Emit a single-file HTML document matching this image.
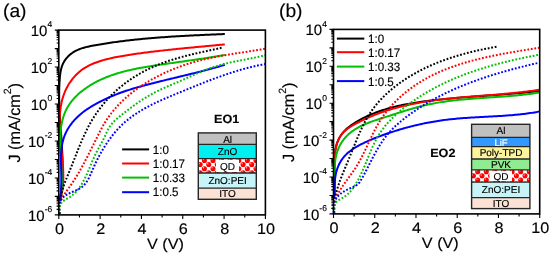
<!DOCTYPE html>
<html><head><meta charset="utf-8"><style>
html,body{margin:0;padding:0;background:#fff;width:550px;height:255px;overflow:hidden}
svg{display:block}
text{text-rendering:geometricPrecision}
svg{will-change:transform}
</style></head><body>
<svg width="550" height="255" viewBox="0 0 550 255" font-family="'Liberation Sans', sans-serif" fill="#000">
<style>text{stroke:#000;stroke-width:0.15px}</style>
<rect width="550" height="255" fill="#fff"/>
<path d="M59.80,200.00 L60.08,198.42 L60.34,196.85 L60.58,195.27 L60.81,193.71 L61.02,192.14 L61.22,190.59 L61.40,189.03 L61.57,187.48 L61.72,185.93 L61.86,184.39 L61.99,182.85 L62.10,181.31 L62.20,179.78 L62.29,178.24 L62.36,176.72 L62.42,175.19 L62.48,173.67 L62.52,172.15 L62.55,170.63 L62.57,169.12 L62.58,167.60 L62.58,166.09 L62.57,164.58 L62.56,163.08 L62.53,161.57 L62.50,160.07 L62.46,158.57 L62.42,157.07 L62.36,155.58 L62.30,154.08 L62.24,152.58 L62.17,151.09 L62.09,149.60 L62.01,148.11 L61.93,146.62 L61.84,145.13 L61.74,143.64 L61.65,142.15 L61.55,140.66 L61.45,139.17 L61.34,137.69 L61.24,136.20 L61.13,134.71 L61.03,133.23 L60.92,131.74 L60.81,130.25 L60.70,128.76 L60.59,127.27 L60.49,125.79 L60.38,124.30 L60.28,122.81 L60.18,121.31 L60.08,119.82 L59.98,118.33 L59.89,116.83 L59.80,115.34 L59.72,113.84 L59.64,112.34 L59.56,110.84 L59.49,109.34 L59.42,107.84 L59.37,106.33 L59.31,104.82 L59.27,103.31 L59.23,101.80 L59.20,100.29 L59.17,98.77 L59.16,97.25 L59.15,95.73 L59.15,94.20 L59.16,92.67 L59.19,91.14 L59.22,89.61 L59.26,88.07 L59.31,86.53 L59.38,84.99 L59.45,83.44 L59.54,81.89 L59.64,80.34 L59.75,78.78 L59.88,77.22 L60.04,75.67 L60.22,74.12 L60.44,72.59 L60.71,71.08 L61.02,69.59 L61.38,68.12 L61.81,66.69 L62.30,65.30 L62.87,63.95 L63.51,62.64 L64.22,61.38 L65.01,60.17 L65.86,59.00 L66.78,57.88 L67.75,56.81 L68.78,55.79 L69.87,54.81 L71.01,53.89 L72.20,53.02 L73.43,52.20 L74.71,51.43 L76.02,50.72 L77.38,50.06 L78.76,49.45 L80.18,48.90 L81.62,48.39 L83.08,47.92 L84.57,47.50 L86.07,47.10 L87.59,46.74 L89.11,46.40 L90.65,46.09 L92.18,45.79 L93.72,45.51 L95.26,45.23 L96.79,44.96 L98.31,44.70 L99.83,44.44 L101.35,44.18 L102.86,43.94 L104.37,43.69 L105.87,43.45 L107.37,43.22 L108.87,42.99 L110.37,42.77 L111.86,42.55 L113.35,42.33 L114.84,42.12 L116.33,41.92 L117.81,41.72 L119.30,41.52 L120.78,41.33 L122.27,41.14 L123.75,40.95 L125.24,40.77 L126.72,40.59 L128.21,40.41 L129.70,40.24 L131.19,40.08 L132.68,39.91 L134.17,39.75 L135.66,39.59 L137.16,39.44 L138.66,39.28 L140.15,39.14 L141.65,38.99 L143.15,38.85 L144.66,38.71 L146.16,38.57 L147.66,38.44 L149.17,38.31 L150.67,38.18 L152.18,38.05 L153.69,37.93 L155.20,37.81 L156.71,37.69 L158.22,37.57 L159.73,37.46 L161.24,37.35 L162.76,37.24 L164.27,37.13 L165.79,37.02 L167.30,36.92 L168.82,36.82 L170.33,36.72 L171.85,36.62 L173.36,36.53 L174.88,36.44 L176.40,36.34 L177.91,36.25 L179.43,36.17 L180.95,36.08 L182.47,35.99 L183.98,35.91 L185.50,35.83 L187.02,35.75 L188.54,35.67 L190.05,35.59 L191.57,35.51 L193.09,35.44 L194.60,35.36 L196.12,35.29 L197.64,35.21 L199.15,35.14 L200.67,35.07 L202.18,35.00 L203.69,34.93 L205.21,34.86 L206.72,34.79 L208.23,34.72 L209.74,34.66 L211.25,34.59 L212.76,34.52 L214.27,34.46 L215.78,34.39 L217.28,34.33 L218.79,34.26 L220.29,34.19 L221.80,34.13 L223.30,34.06 L224.80,34.00" stroke="#000000" stroke-width="2" fill="none" stroke-linejoin="round"/>
<path d="M59.90,201.00 L60.33,199.64 L60.73,198.28 L61.10,196.90 L61.43,195.51 L61.73,194.11 L62.01,192.70 L62.25,191.28 L62.47,189.84 L62.65,188.40 L62.82,186.95 L62.95,185.49 L63.07,184.02 L63.16,182.55 L63.23,181.06 L63.28,179.57 L63.31,178.07 L63.32,176.57 L63.31,175.05 L63.28,173.53 L63.24,172.01 L63.19,170.48 L63.12,168.94 L63.04,167.40 L62.94,165.86 L62.84,164.31 L62.73,162.75 L62.60,161.19 L62.47,159.63 L62.34,158.07 L62.19,156.50 L62.05,154.93 L61.90,153.36 L61.74,151.79 L61.59,150.21 L61.43,148.64 L61.28,147.06 L61.12,145.48 L60.97,143.91 L60.83,142.33 L60.68,140.75 L60.55,139.18 L60.42,137.61 L60.29,136.03 L60.18,134.46 L60.07,132.90 L59.98,131.33 L59.90,129.77 L59.83,128.21 L59.77,126.65 L59.73,125.10 L59.70,123.55 L59.69,122.01 L59.70,120.47 L59.73,118.94 L59.77,117.41 L59.84,115.89 L59.93,114.37 L60.04,112.86 L60.18,111.36 L60.34,109.87 L60.52,108.38 L60.74,106.90 L60.98,105.43 L61.25,103.96 L61.55,102.51 L61.88,101.07 L62.24,99.63 L62.64,98.20 L63.07,96.79 L63.53,95.38 L64.03,93.99 L64.57,92.60 L65.15,91.23 L65.76,89.87 L66.41,88.53 L67.10,87.20 L67.83,85.88 L68.59,84.58 L69.39,83.31 L70.23,82.05 L71.10,80.82 L72.00,79.61 L72.93,78.43 L73.90,77.27 L74.91,76.14 L75.94,75.04 L77.00,73.98 L78.10,72.95 L79.22,71.95 L80.38,70.99 L81.56,70.06 L82.77,69.18 L84.01,68.34 L85.27,67.54 L86.57,66.78 L87.88,66.06 L89.22,65.37 L90.57,64.72 L91.95,64.11 L93.34,63.52 L94.75,62.97 L96.17,62.44 L97.60,61.94 L99.04,61.46 L100.50,61.00 L101.95,60.56 L103.42,60.14 L104.88,59.73 L106.35,59.34 L107.82,58.97 L109.30,58.60 L110.78,58.26 L112.26,57.92 L113.75,57.60 L115.23,57.29 L116.72,56.99 L118.21,56.70 L119.71,56.42 L121.20,56.15 L122.70,55.89 L124.20,55.64 L125.69,55.39 L127.19,55.15 L128.69,54.92 L130.19,54.69 L131.69,54.47 L133.20,54.25 L134.70,54.03 L136.20,53.82 L137.70,53.61 L139.20,53.41 L140.70,53.20 L142.20,53.00 L143.70,52.81 L145.19,52.61 L146.69,52.42 L148.19,52.23 L149.69,52.04 L151.19,51.86 L152.69,51.67 L154.18,51.49 L155.68,51.32 L157.18,51.14 L158.68,50.96 L160.18,50.79 L161.67,50.62 L163.17,50.45 L164.67,50.29 L166.17,50.12 L167.66,49.96 L169.16,49.80 L170.66,49.64 L172.16,49.48 L173.66,49.32 L175.15,49.16 L176.65,49.01 L178.15,48.86 L179.65,48.70 L181.15,48.55 L182.65,48.40 L184.15,48.26 L185.65,48.11 L187.15,47.96 L188.65,47.81 L190.15,47.67 L191.65,47.52 L193.15,47.38 L194.65,47.24 L196.16,47.09 L197.66,46.95 L199.16,46.81 L200.67,46.67 L202.17,46.53 L203.67,46.39 L205.18,46.25 L206.68,46.10 L208.19,45.96 L209.70,45.82 L211.21,45.68 L212.71,45.54 L214.22,45.40 L215.73,45.26 L217.24,45.12 L218.75,44.97 L220.26,44.83 L221.77,44.69 L223.29,44.55 L224.80,44.40" stroke="#ff0000" stroke-width="2" fill="none" stroke-linejoin="round"/>
<path d="M59.90,201.00 L60.22,199.70 L60.51,198.39 L60.76,197.05 L60.99,195.70 L61.19,194.33 L61.36,192.94 L61.51,191.54 L61.63,190.12 L61.73,188.68 L61.81,187.24 L61.87,185.77 L61.91,184.30 L61.93,182.81 L61.93,181.31 L61.92,179.80 L61.89,178.28 L61.85,176.75 L61.80,175.22 L61.74,173.67 L61.67,172.11 L61.59,170.55 L61.51,168.98 L61.42,167.41 L61.32,165.83 L61.23,164.25 L61.13,162.66 L61.03,161.07 L60.93,159.47 L60.83,157.88 L60.74,156.28 L60.65,154.69 L60.56,153.09 L60.48,151.49 L60.41,149.90 L60.36,148.31 L60.31,146.72 L60.27,145.13 L60.25,143.55 L60.24,141.97 L60.24,140.40 L60.26,138.83 L60.31,137.27 L60.37,135.72 L60.45,134.17 L60.55,132.64 L60.68,131.11 L60.83,129.59 L61.00,128.09 L61.20,126.59 L61.43,125.11 L61.69,123.64 L61.99,122.18 L62.31,120.74 L62.66,119.31 L63.05,117.89 L63.48,116.49 L63.94,115.11 L64.44,113.75 L64.98,112.40 L65.56,111.07 L66.18,109.76 L66.84,108.47 L67.55,107.20 L68.30,105.95 L69.10,104.72 L69.93,103.51 L70.80,102.33 L71.71,101.16 L72.66,100.02 L73.64,98.89 L74.65,97.79 L75.70,96.71 L76.77,95.65 L77.87,94.61 L79.00,93.59 L80.15,92.60 L81.32,91.63 L82.52,90.68 L83.73,89.75 L84.96,88.84 L86.21,87.96 L87.48,87.10 L88.75,86.26 L90.04,85.44 L91.34,84.65 L92.65,83.88 L93.97,83.13 L95.30,82.40 L96.64,81.69 L97.99,81.01 L99.35,80.34 L100.71,79.69 L102.08,79.07 L103.47,78.46 L104.86,77.87 L106.25,77.29 L107.66,76.74 L109.07,76.20 L110.48,75.68 L111.91,75.17 L113.34,74.68 L114.77,74.20 L116.22,73.74 L117.66,73.30 L119.12,72.87 L120.57,72.45 L122.04,72.04 L123.50,71.65 L124.97,71.27 L126.45,70.90 L127.92,70.54 L129.41,70.19 L130.89,69.86 L132.38,69.53 L133.87,69.21 L135.36,68.90 L136.85,68.60 L138.35,68.31 L139.85,68.03 L141.35,67.75 L142.85,67.48 L144.35,67.22 L145.85,66.96 L147.35,66.71 L148.85,66.47 L150.35,66.22 L151.86,65.99 L153.36,65.75 L154.85,65.52 L156.35,65.30 L157.85,65.07 L159.34,64.85 L160.84,64.63 L162.33,64.41 L163.82,64.19 L165.30,63.97 L166.79,63.76 L168.27,63.54 L169.76,63.33 L171.24,63.12 L172.72,62.91 L174.20,62.70 L175.68,62.48 L177.15,62.27 L178.63,62.06 L180.11,61.86 L181.59,61.65 L183.06,61.44 L184.54,61.23 L186.02,61.02 L187.49,60.81 L188.97,60.59 L190.45,60.38 L191.92,60.17 L193.40,59.96 L194.88,59.74 L196.36,59.53 L197.84,59.31 L199.32,59.10 L200.81,58.88 L202.29,58.66 L203.78,58.44 L205.27,58.21 L206.75,57.99 L208.25,57.76 L209.74,57.53 L211.23,57.30 L212.73,57.07 L214.23,56.83 L215.73,56.59 L217.24,56.35 L218.74,56.11 L220.25,55.86 L221.77,55.61 L223.28,55.36 L224.80,55.10" stroke="#00c000" stroke-width="2" fill="none" stroke-linejoin="round"/>
<path d="M60.19,201.00 L60.38,199.51 L60.54,198.03 L60.68,196.54 L60.81,195.05 L60.92,193.57 L61.02,192.08 L61.10,190.59 L61.17,189.10 L61.22,187.60 L61.26,186.10 L61.29,184.61 L61.32,183.10 L61.33,181.60 L61.33,180.09 L61.32,178.58 L61.31,177.06 L61.29,175.54 L61.27,174.01 L61.24,172.48 L61.20,170.95 L61.17,169.40 L61.13,167.86 L61.10,166.31 L61.06,164.75 L61.04,163.20 L61.02,161.64 L61.01,160.09 L61.02,158.53 L61.04,156.98 L61.09,155.44 L61.15,153.90 L61.23,152.36 L61.34,150.83 L61.48,149.32 L61.65,147.81 L61.85,146.31 L62.09,144.82 L62.36,143.35 L62.68,141.89 L63.03,140.45 L63.44,139.02 L63.89,137.61 L64.38,136.22 L64.92,134.85 L65.51,133.49 L66.14,132.16 L66.81,130.85 L67.52,129.55 L68.28,128.28 L69.07,127.02 L69.90,125.79 L70.76,124.58 L71.66,123.39 L72.59,122.22 L73.56,121.07 L74.56,119.95 L75.58,118.85 L76.64,117.77 L77.73,116.71 L78.84,115.68 L79.97,114.68 L81.14,113.70 L82.32,112.74 L83.53,111.81 L84.76,110.90 L86.00,110.02 L87.27,109.16 L88.55,108.32 L89.84,107.50 L91.15,106.70 L92.46,105.91 L93.79,105.14 L95.12,104.39 L96.45,103.65 L97.79,102.92 L99.13,102.21 L100.48,101.51 L101.83,100.82 L103.19,100.14 L104.55,99.48 L105.91,98.82 L107.28,98.19 L108.66,97.56 L110.03,96.95 L111.42,96.35 L112.81,95.77 L114.20,95.20 L115.60,94.64 L117.00,94.09 L118.41,93.56 L119.82,93.03 L121.23,92.52 L122.65,92.02 L124.07,91.53 L125.50,91.04 L126.92,90.57 L128.36,90.11 L129.79,89.65 L131.23,89.20 L132.67,88.76 L134.11,88.33 L135.56,87.91 L137.01,87.49 L138.46,87.07 L139.91,86.67 L141.36,86.26 L142.82,85.87 L144.28,85.47 L145.74,85.08 L147.20,84.70 L148.66,84.31 L150.12,83.93 L151.58,83.56 L153.05,83.18 L154.51,82.81 L155.98,82.44 L157.44,82.07 L158.91,81.71 L160.38,81.34 L161.84,80.98 L163.31,80.62 L164.78,80.26 L166.25,79.90 L167.72,79.54 L169.19,79.19 L170.66,78.83 L172.13,78.47 L173.60,78.12 L175.08,77.76 L176.55,77.41 L178.02,77.05 L179.49,76.70 L180.96,76.34 L182.43,75.99 L183.90,75.63 L185.37,75.28 L186.84,74.92 L188.31,74.56 L189.78,74.20 L191.25,73.84 L192.72,73.47 L194.19,73.11 L195.65,72.74 L197.12,72.37 L198.59,72.00 L200.05,71.63 L201.52,71.26 L202.98,70.88 L204.44,70.50 L205.90,70.11 L207.37,69.73 L208.83,69.34 L210.28,68.94 L211.74,68.55 L213.20,68.15 L214.65,67.74 L216.11,67.34 L217.56,66.92 L219.01,66.51 L220.46,66.09 L221.91,65.66 L223.35,65.23 L224.80,64.80" stroke="#0000ff" stroke-width="2" fill="none" stroke-linejoin="round"/>
<path d="M59.79,214.00 L59.63,212.44 L59.52,210.89 L59.47,209.35 L59.46,207.82 L59.49,206.31 L59.57,204.80 L59.69,203.30 L59.84,201.81 L60.04,200.33 L60.27,198.86 L60.54,197.40 L60.84,195.94 L61.17,194.49 L61.52,193.04 L61.91,191.60 L62.32,190.17 L62.76,188.74 L63.21,187.32 L63.69,185.90 L64.18,184.48 L64.70,183.07 L65.22,181.66 L65.76,180.25 L66.31,178.85 L66.87,177.44 L67.44,176.04 L68.02,174.63 L68.59,173.23 L69.17,171.83 L69.76,170.42 L70.34,169.02 L70.91,167.61 L71.49,166.20 L72.06,164.79 L72.62,163.37 L73.19,161.96 L73.75,160.55 L74.31,159.13 L74.87,157.71 L75.42,156.30 L75.98,154.88 L76.54,153.47 L77.10,152.06 L77.67,150.64 L78.23,149.23 L78.80,147.83 L79.37,146.42 L79.95,145.02 L80.53,143.62 L81.12,142.22 L81.71,140.83 L82.31,139.44 L82.92,138.05 L83.54,136.67 L84.16,135.29 L84.80,133.92 L85.44,132.56 L86.09,131.20 L86.76,129.84 L87.43,128.50 L88.12,127.16 L88.82,125.83 L89.54,124.50 L90.26,123.18 L91.01,121.87 L91.76,120.57 L92.54,119.28 L93.32,117.99 L94.13,116.72 L94.95,115.45 L95.78,114.20 L96.63,112.95 L97.49,111.71 L98.37,110.49 L99.27,109.27 L100.18,108.07 L101.10,106.87 L102.04,105.69 L102.99,104.51 L103.96,103.35 L104.94,102.20 L105.93,101.06 L106.94,99.93 L107.97,98.82 L109.00,97.71 L110.05,96.62 L111.11,95.54 L112.19,94.47 L113.28,93.42 L114.38,92.37 L115.49,91.34 L116.62,90.33 L117.76,89.32 L118.90,88.33 L120.06,87.35 L121.24,86.38 L122.42,85.43 L123.61,84.49 L124.81,83.56 L126.03,82.65 L127.25,81.75 L128.49,80.86 L129.73,79.99 L130.98,79.13 L132.24,78.28 L133.51,77.45 L134.79,76.63 L136.08,75.83 L137.38,75.04 L138.68,74.26 L140.00,73.50 L141.32,72.75 L142.64,72.02 L143.98,71.30 L145.32,70.60 L146.67,69.91 L148.02,69.24 L149.39,68.58 L150.75,67.93 L152.13,67.30 L153.51,66.69 L154.89,66.09 L156.28,65.50 L157.68,64.93 L159.08,64.37 L160.48,63.82 L161.90,63.29 L163.31,62.77 L164.73,62.26 L166.15,61.76 L167.58,61.27 L169.01,60.79 L170.45,60.32 L171.89,59.86 L173.33,59.42 L174.78,58.98 L176.23,58.55 L177.68,58.13 L179.14,57.71 L180.60,57.31 L182.06,56.91 L183.52,56.52 L184.99,56.14 L186.46,55.76 L187.93,55.39 L189.40,55.02 L190.87,54.66 L192.35,54.31 L193.82,53.96 L195.30,53.61 L196.78,53.27 L198.26,52.93 L199.74,52.59 L201.22,52.26 L202.70,51.93 L204.18,51.60 L205.66,51.27 L207.14,50.95 L208.62,50.62 L210.10,50.30 L211.58,49.98 L213.06,49.66 L214.53,49.33 L216.01,49.01 L217.48,48.68 L218.96,48.36 L220.43,48.03 L221.90,47.70" stroke="#000000" stroke-width="2" fill="none" stroke-dasharray="1.8 1.75"/>
<path d="M59.90,214.00 L59.50,212.30 L59.25,210.66 L59.14,209.07 L59.16,207.52 L59.30,206.03 L59.56,204.57 L59.91,203.15 L60.36,201.77 L60.90,200.42 L61.50,199.10 L62.18,197.80 L62.91,196.52 L63.69,195.26 L64.51,194.02 L65.36,192.78 L66.23,191.56 L67.12,190.33 L68.01,189.11 L68.91,187.89 L69.79,186.65 L70.66,185.42 L71.52,184.17 L72.36,182.91 L73.19,181.65 L74.01,180.39 L74.82,179.11 L75.62,177.83 L76.41,176.55 L77.19,175.25 L77.96,173.96 L78.72,172.65 L79.47,171.35 L80.22,170.04 L80.96,168.72 L81.69,167.40 L82.41,166.08 L83.13,164.75 L83.84,163.42 L84.54,162.09 L85.24,160.75 L85.94,159.41 L86.63,158.07 L87.32,156.73 L88.01,155.38 L88.69,154.04 L89.37,152.69 L90.05,151.34 L90.73,149.99 L91.40,148.64 L92.08,147.30 L92.76,145.95 L93.43,144.60 L94.11,143.24 L94.78,141.89 L95.46,140.53 L96.13,139.16 L96.80,137.80 L97.48,136.43 L98.15,135.06 L98.84,133.69 L99.53,132.32 L100.22,130.96 L100.93,129.60 L101.65,128.25 L102.38,126.91 L103.12,125.57 L103.88,124.25 L104.66,122.95 L105.45,121.65 L106.27,120.38 L107.10,119.11 L107.95,117.86 L108.81,116.63 L109.70,115.41 L110.60,114.20 L111.51,113.01 L112.45,111.83 L113.40,110.66 L114.36,109.51 L115.34,108.37 L116.34,107.25 L117.35,106.14 L118.37,105.04 L119.41,103.96 L120.46,102.88 L121.53,101.83 L122.61,100.78 L123.70,99.75 L124.81,98.73 L125.93,97.73 L127.06,96.74 L128.20,95.76 L129.36,94.79 L130.52,93.84 L131.70,92.89 L132.89,91.97 L134.09,91.05 L135.30,90.14 L136.52,89.25 L137.75,88.37 L138.99,87.51 L140.23,86.65 L141.49,85.81 L142.76,84.98 L144.03,84.16 L145.32,83.35 L146.61,82.55 L147.91,81.77 L149.21,80.99 L150.53,80.23 L151.85,79.48 L153.17,78.75 L154.51,78.02 L155.85,77.30 L157.19,76.60 L158.54,75.90 L159.90,75.22 L161.26,74.55 L162.62,73.89 L164.00,73.24 L165.37,72.60 L166.75,71.97 L168.14,71.35 L169.53,70.75 L170.92,70.15 L172.32,69.57 L173.72,69.00 L175.13,68.43 L176.54,67.88 L177.96,67.34 L179.38,66.81 L180.80,66.29 L182.23,65.78 L183.66,65.29 L185.09,64.80 L186.52,64.32 L187.96,63.86 L189.41,63.40 L190.85,62.96 L192.30,62.52 L193.75,62.10 L195.20,61.69 L196.66,61.28 L198.11,60.89 L199.57,60.51 L201.04,60.14 L202.50,59.78 L203.97,59.42 L205.43,59.08 L206.90,58.74 L208.38,58.41 L209.85,58.09 L211.32,57.78 L212.80,57.48 L214.28,57.18 L215.76,56.89 L217.24,56.60 L218.72,56.32 L220.21,56.05 L221.69,55.78 L223.18,55.51 L224.67,55.25 L226.15,55.00 L227.64,54.75 L229.13,54.50 L230.62,54.25 L232.12,54.01 L233.61,53.77 L235.10,53.54 L236.60,53.30 L238.09,53.07 L239.59,52.84 L241.08,52.61 L242.58,52.38 L244.07,52.15 L245.57,51.92 L247.06,51.69 L248.56,51.46 L250.06,51.23 L251.55,51.00 L253.05,50.76 L254.54,50.53 L256.04,50.29 L257.53,50.05 L259.03,49.81 L260.52,49.56 L262.01,49.31 L263.51,49.06 L265.00,48.80" stroke="#ff0000" stroke-width="2" fill="none" stroke-dasharray="1.8 1.75"/>
<path d="M59.90,214.00 L59.61,212.26 L59.44,210.58 L59.42,208.97 L59.55,207.44 L59.83,206.00 L60.27,204.68 L60.89,203.47 L61.68,202.41 L62.66,201.49 L63.78,200.68 L64.99,199.91 L66.26,199.16 L67.56,198.40 L68.87,197.63 L70.15,196.82 L71.39,195.96 L72.58,195.04 L73.72,194.06 L74.81,193.04 L75.86,191.97 L76.87,190.85 L77.83,189.70 L78.76,188.51 L79.65,187.28 L80.50,186.03 L81.32,184.75 L82.11,183.45 L82.87,182.14 L83.60,180.80 L84.31,179.46 L84.99,178.11 L85.66,176.75 L86.30,175.38 L86.93,174.01 L87.54,172.63 L88.14,171.25 L88.73,169.87 L89.32,168.48 L89.90,167.10 L90.47,165.71 L91.05,164.32 L91.62,162.94 L92.20,161.55 L92.79,160.17 L93.38,158.79 L93.99,157.42 L94.61,156.05 L95.24,154.69 L95.89,153.34 L96.56,151.99 L97.26,150.65 L97.97,149.32 L98.70,148.00 L99.44,146.68 L100.18,145.36 L100.92,144.03 L101.65,142.70 L102.37,141.35 L103.07,139.99 L103.74,138.62 L104.39,137.24 L105.03,135.85 L105.67,134.47 L106.31,133.09 L106.97,131.72 L107.65,130.37 L108.35,129.04 L109.10,127.75 L109.89,126.48 L110.73,125.26 L111.64,124.09 L112.60,122.96 L113.62,121.86 L114.67,120.81 L115.77,119.78 L116.90,118.77 L118.05,117.79 L119.23,116.82 L120.41,115.86 L121.60,114.91 L122.79,113.97 L123.99,113.03 L125.19,112.09 L126.39,111.16 L127.59,110.23 L128.80,109.31 L130.01,108.40 L131.23,107.49 L132.45,106.59 L133.67,105.70 L134.90,104.81 L136.13,103.94 L137.37,103.07 L138.61,102.22 L139.86,101.37 L141.11,100.53 L142.37,99.71 L143.64,98.90 L144.91,98.09 L146.19,97.30 L147.48,96.53 L148.77,95.76 L150.07,95.01 L151.38,94.28 L152.70,93.55 L154.03,92.85 L155.36,92.16 L156.70,91.48 L158.05,90.81 L159.41,90.16 L160.77,89.51 L162.13,88.88 L163.50,88.25 L164.88,87.64 L166.26,87.03 L167.64,86.42 L169.03,85.82 L170.42,85.22 L171.81,84.63 L173.20,84.04 L174.59,83.44 L175.99,82.85 L177.38,82.26 L178.77,81.66 L180.16,81.06 L181.55,80.45 L182.93,79.84 L184.32,79.23 L185.70,78.61 L187.08,77.99 L188.46,77.37 L189.84,76.75 L191.22,76.13 L192.60,75.52 L193.98,74.90 L195.36,74.29 L196.75,73.68 L198.13,73.08 L199.52,72.48 L200.91,71.89 L202.30,71.31 L203.69,70.73 L205.09,70.17 L206.49,69.62 L207.89,69.08 L209.30,68.55 L210.71,68.03 L212.13,67.53 L213.55,67.04 L214.98,66.57 L216.41,66.12 L217.85,65.68 L219.29,65.26 L220.74,64.85 L222.20,64.46 L223.66,64.08 L225.12,63.71 L226.58,63.36 L228.05,63.01 L229.53,62.68 L231.00,62.35 L232.48,62.03 L233.96,61.72 L235.44,61.41 L236.92,61.11 L238.41,60.81 L239.89,60.52 L241.38,60.23 L242.87,59.94 L244.35,59.66 L245.84,59.37 L247.33,59.08 L248.81,58.80 L250.29,58.51 L251.78,58.21 L253.26,57.92 L254.74,57.61 L256.21,57.31 L257.69,56.99 L259.16,56.67 L260.62,56.34 L262.09,56.01 L263.54,55.66 L265.00,55.30" stroke="#00c000" stroke-width="2" fill="none" stroke-dasharray="1.8 1.75"/>
<path d="M59.90,214.00 L59.32,212.24 L58.93,210.54 L58.72,208.89 L58.68,207.30 L58.81,205.76 L59.09,204.30 L59.52,202.89 L60.09,201.56 L60.79,200.30 L61.60,199.11 L62.53,198.01 L63.56,196.98 L64.68,196.03 L65.89,195.17 L67.16,194.38 L68.50,193.66 L69.88,193.00 L71.29,192.37 L72.71,191.78 L74.13,191.19 L75.54,190.60 L76.93,190.00 L78.28,189.35 L79.59,188.66 L80.83,187.90 L82.01,187.06 L83.10,186.12 L84.12,185.09 L85.06,183.99 L85.95,182.82 L86.77,181.60 L87.55,180.34 L88.28,179.04 L88.98,177.72 L89.64,176.38 L90.28,175.02 L90.90,173.65 L91.51,172.26 L92.12,170.87 L92.72,169.47 L93.33,168.07 L93.96,166.67 L94.59,165.28 L95.23,163.89 L95.89,162.50 L96.56,161.12 L97.24,159.75 L97.94,158.37 L98.64,157.01 L99.36,155.65 L100.09,154.30 L100.84,152.95 L101.59,151.62 L102.36,150.29 L103.15,148.97 L103.94,147.66 L104.75,146.36 L105.58,145.06 L106.41,143.78 L107.26,142.51 L108.13,141.26 L109.01,140.01 L109.90,138.78 L110.80,137.56 L111.72,136.35 L112.66,135.16 L113.61,133.98 L114.57,132.81 L115.55,131.66 L116.54,130.53 L117.55,129.41 L118.57,128.31 L119.61,127.23 L120.66,126.17 L121.73,125.12 L122.81,124.09 L123.91,123.08 L125.03,122.09 L126.15,121.12 L127.30,120.16 L128.46,119.23 L129.63,118.31 L130.81,117.41 L132.01,116.52 L133.22,115.65 L134.45,114.80 L135.68,113.96 L136.93,113.14 L138.19,112.33 L139.46,111.54 L140.74,110.76 L142.03,109.99 L143.33,109.23 L144.63,108.49 L145.95,107.76 L147.28,107.04 L148.61,106.33 L149.95,105.63 L151.30,104.94 L152.66,104.27 L154.02,103.60 L155.39,102.93 L156.76,102.28 L158.14,101.64 L159.52,101.00 L160.91,100.37 L162.31,99.75 L163.70,99.13 L165.10,98.52 L166.51,97.91 L167.91,97.31 L169.32,96.71 L170.73,96.12 L172.14,95.53 L173.55,94.94 L174.97,94.36 L176.38,93.77 L177.79,93.19 L179.21,92.61 L180.62,92.04 L182.03,91.46 L183.44,90.88 L184.85,90.31 L186.26,89.73 L187.66,89.15 L189.07,88.58 L190.47,88.01 L191.88,87.44 L193.28,86.87 L194.68,86.30 L196.08,85.73 L197.49,85.17 L198.89,84.61 L200.29,84.05 L201.69,83.49 L203.09,82.94 L204.50,82.39 L205.90,81.84 L207.30,81.29 L208.71,80.75 L210.11,80.22 L211.51,79.68 L212.92,79.15 L214.33,78.63 L215.74,78.10 L217.14,77.59 L218.55,77.07 L219.97,76.57 L221.38,76.06 L222.80,75.56 L224.21,75.07 L225.63,74.59 L227.05,74.10 L228.47,73.63 L229.90,73.16 L231.32,72.69 L232.75,72.24 L234.19,71.79 L235.62,71.34 L237.06,70.90 L238.50,70.47 L239.94,70.05 L241.38,69.63 L242.83,69.22 L244.28,68.82 L245.74,68.43 L247.20,68.04 L248.66,67.67 L250.12,67.30 L251.59,66.94 L253.07,66.58 L254.54,66.24 L256.02,65.91 L257.51,65.58 L259.00,65.26 L260.49,64.96 L261.99,64.66 L263.49,64.37 L265.00,64.10" stroke="#0000ff" stroke-width="2" fill="none" stroke-dasharray="1.8 1.75"/>
<rect x="58.80" y="30.10" width="206.60" height="184.80" fill="none" stroke="#000" stroke-width="1.6"/>
<path d="M54.80,214.90H58.80M56.60,209.34H58.80M56.60,206.08H58.80M56.60,203.77H58.80M56.60,201.98H58.80M56.60,200.52H58.80M56.60,199.28H58.80M56.60,198.21H58.80M56.60,197.27H58.80M54.80,196.42H58.80M56.60,190.86H58.80M56.60,187.60H58.80M56.60,185.29H58.80M56.60,183.50H58.80M56.60,182.04H58.80M56.60,180.80H58.80M56.60,179.73H58.80M56.60,178.79H58.80M54.80,177.94H58.80M56.60,172.38H58.80M56.60,169.12H58.80M56.60,166.81H58.80M56.60,165.02H58.80M56.60,163.56H58.80M56.60,162.32H58.80M56.60,161.25H58.80M56.60,160.31H58.80M54.80,159.46H58.80M56.60,153.90H58.80M56.60,150.64H58.80M56.60,148.33H58.80M56.60,146.54H58.80M56.60,145.08H58.80M56.60,143.84H58.80M56.60,142.77H58.80M56.60,141.83H58.80M54.80,140.98H58.80M56.60,135.42H58.80M56.60,132.16H58.80M56.60,129.85H58.80M56.60,128.06H58.80M56.60,126.60H58.80M56.60,125.36H58.80M56.60,124.29H58.80M56.60,123.35H58.80M54.80,122.50H58.80M56.60,116.94H58.80M56.60,113.68H58.80M56.60,111.37H58.80M56.60,109.58H58.80M56.60,108.12H58.80M56.60,106.88H58.80M56.60,105.81H58.80M56.60,104.87H58.80M54.80,104.02H58.80M56.60,98.46H58.80M56.60,95.20H58.80M56.60,92.89H58.80M56.60,91.10H58.80M56.60,89.64H58.80M56.60,88.40H58.80M56.60,87.33H58.80M56.60,86.39H58.80M54.80,85.54H58.80M56.60,79.98H58.80M56.60,76.72H58.80M56.60,74.41H58.80M56.60,72.62H58.80M56.60,71.16H58.80M56.60,69.92H58.80M56.60,68.85H58.80M56.60,67.91H58.80M54.80,67.06H58.80M56.60,61.50H58.80M56.60,58.24H58.80M56.60,55.93H58.80M56.60,54.14H58.80M56.60,52.68H58.80M56.60,51.44H58.80M56.60,50.37H58.80M56.60,49.43H58.80M54.80,48.58H58.80M56.60,43.02H58.80M56.60,39.76H58.80M56.60,37.45H58.80M56.60,35.66H58.80M56.60,34.20H58.80M56.60,32.96H58.80M56.60,31.89H58.80M56.60,30.95H58.80M54.80,30.10H58.80M58.80,214.90V218.90M79.46,214.90V217.50M100.12,214.90V218.90M120.78,214.90V217.50M141.44,214.90V218.90M162.10,214.90V217.50M182.76,214.90V218.90M203.42,214.90V217.50M224.08,214.90V218.90M244.74,214.90V217.50M265.40,214.90V218.90" stroke="#000" stroke-width="1.1" fill="none"/>
<text x="52.20" y="220.90" font-size="15" text-anchor="end">10<tspan dy="-8.6" font-size="8.5">-6</tspan></text>
<text x="52.20" y="183.94" font-size="15" text-anchor="end">10<tspan dy="-8.6" font-size="8.5">-4</tspan></text>
<text x="52.20" y="146.98" font-size="15" text-anchor="end">10<tspan dy="-8.6" font-size="8.5">-2</tspan></text>
<text x="52.20" y="110.02" font-size="15" text-anchor="end">10<tspan dy="-8.6" font-size="8.5">0</tspan></text>
<text x="52.20" y="73.06" font-size="15" text-anchor="end">10<tspan dy="-8.6" font-size="8.5">2</tspan></text>
<text x="52.20" y="36.10" font-size="15" text-anchor="end">10<tspan dy="-8.6" font-size="8.5">4</tspan></text>
<text transform="translate(59.40,233.70) scale(1.060,1)" font-size="15.3" text-anchor="middle">0</text>
<text transform="translate(100.72,233.70) scale(1.060,1)" font-size="15.3" text-anchor="middle">2</text>
<text transform="translate(142.04,233.70) scale(1.060,1)" font-size="15.3" text-anchor="middle">4</text>
<text transform="translate(183.36,233.70) scale(1.060,1)" font-size="15.3" text-anchor="middle">6</text>
<text transform="translate(224.68,233.70) scale(1.060,1)" font-size="15.3" text-anchor="middle">8</text>
<text transform="translate(266.00,233.70) scale(1.060,1)" font-size="15.3" text-anchor="middle">10</text>
<text transform="translate(3.00,16.60) scale(1.040,1)" font-size="18.5">(a)</text>
<text transform="translate(165.50,249.10) scale(1.080,1)" font-size="15" text-anchor="middle">V (V)</text>
<text transform="translate(19.6,122.8) rotate(-90)" text-anchor="middle" font-size="16.2">J (mA/cm<tspan dy="-8.2" font-size="10.5">2</tspan><tspan dy="8.2">)</tspan></text>
<path d="M122.10,149.40H149.10" stroke="#000000" stroke-width="2"/>
<text transform="translate(152.80,153.60) scale(0.950,1)" font-size="12.2">1:0</text>
<path d="M122.10,163.50H149.10" stroke="#ff0000" stroke-width="2"/>
<text transform="translate(152.80,167.70) scale(0.950,1)" font-size="12.2">1:0.17</text>
<path d="M122.10,177.60H149.10" stroke="#00c000" stroke-width="2"/>
<text transform="translate(152.80,181.80) scale(0.950,1)" font-size="12.2">1:0.33</text>
<path d="M122.10,192.20H149.10" stroke="#0000ff" stroke-width="2"/>
<text transform="translate(152.80,196.40) scale(0.950,1)" font-size="12.2">1:0.5</text>
<text transform="translate(214.00,122.50) scale(1.050,1)" font-size="12" font-weight="bold">EO1</text>
<rect x="198.30" y="132.90" width="58.00" height="11.40" fill="#c0c0c0"/>
<rect x="198.30" y="144.30" width="58.00" height="14.30" fill="#00f0f0"/>
<clipPath id="c198"><rect x="198.30" y="158.60" width="58.00" height="14.40"/></clipPath>
<rect x="198.30" y="158.60" width="58.00" height="14.40" fill="#fff"/>
<g clip-path="url(#c198)"><g fill="#ff0000"><circle cx="195.80" cy="160.40" r="2.55"/><circle cx="204.40" cy="160.40" r="2.55"/><circle cx="213.00" cy="160.40" r="2.55"/><circle cx="221.60" cy="160.40" r="2.55"/><circle cx="230.20" cy="160.40" r="2.55"/><circle cx="238.80" cy="160.40" r="2.55"/><circle cx="247.40" cy="160.40" r="2.55"/><circle cx="256.00" cy="160.40" r="2.55"/><circle cx="200.10" cy="164.55" r="2.55"/><circle cx="208.70" cy="164.55" r="2.55"/><circle cx="217.30" cy="164.55" r="2.55"/><circle cx="225.90" cy="164.55" r="2.55"/><circle cx="234.50" cy="164.55" r="2.55"/><circle cx="243.10" cy="164.55" r="2.55"/><circle cx="251.70" cy="164.55" r="2.55"/><circle cx="195.80" cy="168.70" r="2.55"/><circle cx="204.40" cy="168.70" r="2.55"/><circle cx="213.00" cy="168.70" r="2.55"/><circle cx="221.60" cy="168.70" r="2.55"/><circle cx="230.20" cy="168.70" r="2.55"/><circle cx="238.80" cy="168.70" r="2.55"/><circle cx="247.40" cy="168.70" r="2.55"/><circle cx="256.00" cy="168.70" r="2.55"/><circle cx="200.10" cy="172.85" r="2.55"/><circle cx="208.70" cy="172.85" r="2.55"/><circle cx="217.30" cy="172.85" r="2.55"/><circle cx="225.90" cy="172.85" r="2.55"/><circle cx="234.50" cy="172.85" r="2.55"/><circle cx="243.10" cy="172.85" r="2.55"/><circle cx="251.70" cy="172.85" r="2.55"/></g><g fill="#ffb0b0"><circle cx="194.90" cy="159.50" r="0.7"/><circle cx="203.50" cy="159.50" r="0.7"/><circle cx="212.10" cy="159.50" r="0.7"/><circle cx="220.70" cy="159.50" r="0.7"/><circle cx="229.30" cy="159.50" r="0.7"/><circle cx="237.90" cy="159.50" r="0.7"/><circle cx="246.50" cy="159.50" r="0.7"/><circle cx="255.10" cy="159.50" r="0.7"/><circle cx="199.20" cy="163.65" r="0.7"/><circle cx="207.80" cy="163.65" r="0.7"/><circle cx="216.40" cy="163.65" r="0.7"/><circle cx="225.00" cy="163.65" r="0.7"/><circle cx="233.60" cy="163.65" r="0.7"/><circle cx="242.20" cy="163.65" r="0.7"/><circle cx="250.80" cy="163.65" r="0.7"/><circle cx="194.90" cy="167.80" r="0.7"/><circle cx="203.50" cy="167.80" r="0.7"/><circle cx="212.10" cy="167.80" r="0.7"/><circle cx="220.70" cy="167.80" r="0.7"/><circle cx="229.30" cy="167.80" r="0.7"/><circle cx="237.90" cy="167.80" r="0.7"/><circle cx="246.50" cy="167.80" r="0.7"/><circle cx="255.10" cy="167.80" r="0.7"/><circle cx="199.20" cy="171.95" r="0.7"/><circle cx="207.80" cy="171.95" r="0.7"/><circle cx="216.40" cy="171.95" r="0.7"/><circle cx="225.00" cy="171.95" r="0.7"/><circle cx="233.60" cy="171.95" r="0.7"/><circle cx="242.20" cy="171.95" r="0.7"/><circle cx="250.80" cy="171.95" r="0.7"/></g></g>
<rect x="216.00" y="159.80" width="23.00" height="12.20" fill="#fff"/>
<rect x="198.30" y="173.00" width="58.00" height="15.20" fill="#c6f4f8"/>
<rect x="198.30" y="188.20" width="58.00" height="11.10" fill="#fbe2d4"/>
<path d="M198.30,144.30H256.30M198.30,158.60H256.30M198.30,173.00H256.30M198.30,188.20H256.30" stroke="#262626" stroke-width="1.3"/>
<rect x="198.30" y="132.90" width="58.00" height="66.40" fill="none" stroke="#262626" stroke-width="1.4"/>
<text x="227.60" y="142.80" font-size="10" text-anchor="middle" style="fill:#000;stroke:#000">Al</text>
<text x="227.60" y="155.40" font-size="10" text-anchor="middle" style="fill:#000;stroke:#000">ZnO</text>
<text x="227.60" y="169.50" font-size="10" text-anchor="middle" style="fill:#000;stroke:#000">QD</text>
<text x="227.60" y="184.30" font-size="10" text-anchor="middle" style="fill:#000;stroke:#000">ZnO:PEI</text>
<text x="227.60" y="197.20" font-size="10" text-anchor="middle" style="fill:#000;stroke:#000">ITO</text>
<path d="M334.19,196.00 L334.36,194.53 L334.49,193.05 L334.60,191.57 L334.68,190.08 L334.74,188.59 L334.77,187.09 L334.79,185.58 L334.79,184.08 L334.77,182.57 L334.75,181.05 L334.71,179.53 L334.67,178.01 L334.62,176.49 L334.57,174.96 L334.51,173.43 L334.46,171.90 L334.42,170.37 L334.38,168.84 L334.35,167.31 L334.33,165.77 L334.32,164.24 L334.33,162.71 L334.36,161.17 L334.41,159.64 L334.48,158.11 L334.57,156.58 L334.70,155.06 L334.85,153.53 L335.04,152.01 L335.26,150.50 L335.53,149.00 L335.83,147.52 L336.19,146.04 L336.59,144.59 L337.05,143.16 L337.57,141.76 L338.14,140.38 L338.77,139.04 L339.46,137.72 L340.20,136.44 L341.00,135.20 L341.86,134.00 L342.78,132.83 L343.75,131.71 L344.77,130.64 L345.84,129.60 L346.96,128.59 L348.11,127.62 L349.29,126.69 L350.51,125.78 L351.74,124.90 L353.00,124.05 L354.28,123.22 L355.57,122.41 L356.87,121.62 L358.18,120.85 L359.49,120.10 L360.82,119.38 L362.15,118.66 L363.49,117.97 L364.84,117.30 L366.20,116.64 L367.56,116.00 L368.94,115.38 L370.32,114.78 L371.70,114.19 L373.10,113.62 L374.50,113.06 L375.90,112.52 L377.32,112.00 L378.74,111.49 L380.16,110.99 L381.59,110.51 L383.03,110.04 L384.47,109.59 L385.91,109.15 L387.37,108.72 L388.82,108.31 L390.28,107.91 L391.75,107.52 L393.22,107.14 L394.69,106.77 L396.16,106.42 L397.64,106.07 L399.13,105.74 L400.61,105.41 L402.10,105.10 L403.59,104.80 L405.08,104.50 L406.58,104.22 L408.08,103.94 L409.58,103.67 L411.08,103.41 L412.58,103.15 L414.09,102.91 L415.59,102.67 L417.10,102.43 L418.60,102.21 L420.11,101.99 L421.62,101.77 L423.13,101.56 L424.63,101.36 L426.14,101.16 L427.65,100.97 L429.15,100.78 L430.66,100.59 L432.16,100.41 L433.67,100.23 L435.17,100.06 L436.68,99.89 L438.18,99.72 L439.68,99.56 L441.19,99.40 L442.69,99.25 L444.19,99.09 L445.70,98.95 L447.20,98.80 L448.70,98.66 L450.20,98.52 L451.70,98.38 L453.21,98.24 L454.71,98.11 L456.21,97.98 L457.71,97.85 L459.21,97.73 L460.71,97.61 L462.21,97.48 L463.71,97.36 L465.21,97.25 L466.71,97.13 L468.22,97.01 L469.72,96.90 L471.22,96.79 L472.72,96.67 L474.22,96.56 L475.72,96.45 L477.22,96.34 L478.72,96.23 L480.22,96.13 L481.72,96.02 L483.22,95.91 L484.73,95.80 L486.23,95.69 L487.73,95.59 L489.23,95.48 L490.73,95.37 L492.24,95.26 L493.74,95.15 L495.24,95.04 L496.74,94.93 L498.25,94.82 L499.75,94.70 L501.26,94.59 L502.76,94.47 L504.27,94.36 L505.77,94.24 L507.28,94.12 L508.78,94.00 L510.29,93.87 L511.79,93.75 L513.30,93.62 L514.81,93.49 L516.32,93.36 L517.83,93.22 L519.33,93.08 L520.84,92.94 L522.35,92.80 L523.86,92.65 L525.38,92.50 L526.89,92.35 L528.40,92.19 L529.91,92.03 L531.42,91.87 L532.94,91.71 L534.45,91.54 L535.97,91.36 L537.48,91.18 L539.00,91.00" stroke="#000000" stroke-width="2" fill="none" stroke-linejoin="round"/>
<path d="M334.30,196.00 L334.42,194.48 L334.53,192.97 L334.61,191.46 L334.67,189.95 L334.72,188.44 L334.75,186.93 L334.76,185.42 L334.77,183.91 L334.76,182.40 L334.75,180.89 L334.72,179.38 L334.70,177.87 L334.67,176.36 L334.64,174.84 L334.61,173.33 L334.58,171.82 L334.55,170.30 L334.53,168.79 L334.52,167.27 L334.52,165.75 L334.53,164.23 L334.56,162.70 L334.60,161.18 L334.65,159.65 L334.73,158.12 L334.82,156.59 L334.94,155.06 L335.08,153.52 L335.25,151.98 L335.46,150.45 L335.70,148.93 L335.99,147.41 L336.33,145.92 L336.72,144.44 L337.17,142.99 L337.68,141.56 L338.26,140.17 L338.90,138.81 L339.60,137.49 L340.37,136.22 L341.21,134.99 L342.12,133.82 L343.09,132.71 L344.13,131.65 L345.23,130.64 L346.38,129.68 L347.58,128.76 L348.82,127.89 L350.09,127.04 L351.39,126.23 L352.71,125.44 L354.05,124.68 L355.39,123.93 L356.75,123.20 L358.10,122.49 L359.46,121.78 L360.83,121.09 L362.20,120.42 L363.57,119.75 L364.95,119.11 L366.33,118.47 L367.71,117.85 L369.10,117.23 L370.49,116.64 L371.89,116.05 L373.29,115.48 L374.69,114.92 L376.10,114.37 L377.51,113.83 L378.92,113.31 L380.34,112.79 L381.76,112.29 L383.18,111.80 L384.61,111.32 L386.04,110.85 L387.48,110.39 L388.91,109.94 L390.35,109.50 L391.79,109.07 L393.24,108.65 L394.69,108.24 L396.14,107.84 L397.59,107.45 L399.05,107.07 L400.51,106.70 L401.97,106.34 L403.44,105.99 L404.91,105.64 L406.37,105.31 L407.85,104.98 L409.32,104.66 L410.80,104.35 L412.28,104.04 L413.76,103.75 L415.24,103.46 L416.73,103.18 L418.21,102.91 L419.70,102.64 L421.20,102.38 L422.69,102.13 L424.18,101.88 L425.68,101.64 L427.18,101.40 L428.68,101.18 L430.18,100.95 L431.68,100.74 L433.19,100.53 L434.69,100.32 L436.20,100.12 L437.71,99.93 L439.22,99.74 L440.73,99.55 L442.24,99.37 L443.76,99.19 L445.27,99.02 L446.79,98.85 L448.31,98.69 L449.82,98.53 L451.34,98.37 L452.86,98.22 L454.38,98.07 L455.90,97.92 L457.42,97.77 L458.94,97.63 L460.47,97.49 L461.99,97.36 L463.51,97.22 L465.03,97.09 L466.56,96.96 L468.08,96.83 L469.61,96.71 L471.13,96.58 L472.66,96.46 L474.18,96.33 L475.70,96.21 L477.23,96.09 L478.75,95.97 L480.28,95.85 L481.80,95.73 L483.32,95.61 L484.85,95.49 L486.37,95.37 L487.89,95.25 L489.41,95.13 L490.93,95.01 L492.46,94.89 L493.98,94.77 L495.49,94.64 L497.01,94.52 L498.53,94.39 L500.05,94.26 L501.56,94.13 L503.08,94.00 L504.59,93.86 L506.10,93.73 L507.62,93.59 L509.13,93.44 L510.63,93.30 L512.14,93.15 L513.65,93.00 L515.15,92.85 L516.66,92.69 L518.16,92.53 L519.66,92.36 L521.16,92.19 L522.66,92.02 L524.15,91.84 L525.64,91.66 L527.14,91.47 L528.62,91.28 L530.11,91.09 L531.60,90.88 L533.08,90.68 L534.56,90.47 L536.04,90.25 L537.52,90.02 L538.99,89.80" stroke="#ff0000" stroke-width="2" fill="none" stroke-linejoin="round"/>
<path d="M334.51,195.99 L334.52,194.60 L334.52,193.18 L334.50,191.74 L334.48,190.29 L334.46,188.81 L334.42,187.32 L334.39,185.82 L334.35,184.30 L334.32,182.78 L334.29,181.24 L334.27,179.69 L334.25,178.14 L334.25,176.58 L334.25,175.02 L334.27,173.46 L334.31,171.89 L334.36,170.33 L334.43,168.77 L334.53,167.21 L334.64,165.66 L334.79,164.11 L334.96,162.58 L335.16,161.05 L335.39,159.54 L335.66,158.03 L335.96,156.54 L336.30,155.07 L336.68,153.62 L337.11,152.18 L337.57,150.77 L338.09,149.37 L338.65,148.00 L339.26,146.66 L339.91,145.34 L340.62,144.05 L341.38,142.79 L342.18,141.55 L343.03,140.35 L343.92,139.18 L344.85,138.04 L345.83,136.94 L346.85,135.88 L347.90,134.85 L349.00,133.85 L350.13,132.89 L351.30,131.97 L352.49,131.08 L353.72,130.23 L354.97,129.41 L356.24,128.62 L357.54,127.86 L358.85,127.13 L360.19,126.43 L361.54,125.76 L362.91,125.12 L364.30,124.50 L365.70,123.90 L367.11,123.32 L368.54,122.76 L369.97,122.21 L371.42,121.68 L372.87,121.17 L374.33,120.66 L375.79,120.17 L377.26,119.69 L378.73,119.21 L380.20,118.74 L381.67,118.27 L383.14,117.81 L384.61,117.34 L386.08,116.88 L387.54,116.41 L389.00,115.94 L390.45,115.47 L391.90,115.00 L393.35,114.54 L394.80,114.07 L396.24,113.60 L397.68,113.14 L399.12,112.67 L400.56,112.21 L402.00,111.76 L403.43,111.30 L404.87,110.86 L406.30,110.41 L407.74,109.97 L409.17,109.54 L410.61,109.11 L412.05,108.69 L413.48,108.27 L414.92,107.86 L416.36,107.46 L417.80,107.07 L419.24,106.69 L420.68,106.31 L422.13,105.95 L423.58,105.60 L425.03,105.25 L426.49,104.92 L427.95,104.60 L429.41,104.28 L430.87,103.98 L432.34,103.69 L433.81,103.41 L435.28,103.14 L436.75,102.87 L438.23,102.62 L439.71,102.37 L441.19,102.13 L442.68,101.91 L444.16,101.68 L445.65,101.47 L447.14,101.26 L448.64,101.07 L450.13,100.87 L451.63,100.69 L453.13,100.51 L454.63,100.34 L456.13,100.17 L457.63,100.01 L459.14,99.85 L460.64,99.70 L462.15,99.55 L463.66,99.41 L465.17,99.28 L466.68,99.14 L468.19,99.01 L469.70,98.89 L471.22,98.77 L472.73,98.65 L474.25,98.53 L475.76,98.42 L477.28,98.31 L478.80,98.20 L480.31,98.09 L481.83,97.98 L483.35,97.88 L484.87,97.78 L486.38,97.67 L487.90,97.57 L489.42,97.47 L490.94,97.37 L492.46,97.27 L493.97,97.16 L495.49,97.06 L497.01,96.96 L498.52,96.85 L500.04,96.74 L501.55,96.63 L503.07,96.52 L504.58,96.41 L506.10,96.30 L507.61,96.18 L509.12,96.06 L510.63,95.93 L512.14,95.80 L513.64,95.67 L515.15,95.53 L516.65,95.39 L518.16,95.25 L519.66,95.10 L521.16,94.94 L522.65,94.78 L524.15,94.62 L525.65,94.45 L527.14,94.27 L528.63,94.09 L530.12,93.89 L531.60,93.70 L533.09,93.49 L534.57,93.28 L536.05,93.06 L537.52,92.83 L539.00,92.60" stroke="#00c000" stroke-width="2" fill="none" stroke-linejoin="round"/>
<path d="M334.31,198.00 L334.32,196.54 L334.33,195.05 L334.34,193.55 L334.36,192.03 L334.38,190.50 L334.41,188.96 L334.45,187.41 L334.51,185.86 L334.59,184.30 L334.70,182.74 L334.83,181.19 L334.98,179.64 L335.17,178.10 L335.39,176.57 L335.65,175.06 L335.95,173.56 L336.29,172.08 L336.68,170.62 L337.12,169.18 L337.61,167.77 L338.15,166.39 L338.74,165.04 L339.38,163.71 L340.08,162.42 L340.82,161.16 L341.61,159.93 L342.45,158.74 L343.34,157.58 L344.28,156.46 L345.27,155.38 L346.31,154.34 L347.38,153.33 L348.50,152.36 L349.66,151.42 L350.85,150.51 L352.08,149.63 L353.33,148.79 L354.61,147.96 L355.91,147.17 L357.23,146.40 L358.57,145.65 L359.93,144.92 L361.29,144.21 L362.67,143.52 L364.05,142.85 L365.43,142.20 L366.83,141.55 L368.22,140.93 L369.63,140.32 L371.04,139.72 L372.45,139.13 L373.87,138.55 L375.29,137.99 L376.71,137.43 L378.14,136.89 L379.57,136.35 L381.00,135.82 L382.43,135.29 L383.86,134.78 L385.30,134.27 L386.73,133.76 L388.17,133.27 L389.61,132.78 L391.05,132.30 L392.49,131.83 L393.94,131.36 L395.38,130.91 L396.83,130.46 L398.28,130.01 L399.73,129.58 L401.18,129.15 L402.63,128.73 L404.09,128.32 L405.54,127.91 L407.00,127.51 L408.46,127.12 L409.92,126.74 L411.38,126.36 L412.84,126.00 L414.31,125.64 L415.78,125.28 L417.25,124.94 L418.71,124.60 L420.19,124.27 L421.66,123.95 L423.13,123.64 L424.61,123.33 L426.09,123.03 L427.57,122.74 L429.05,122.46 L430.53,122.19 L432.01,121.92 L433.50,121.66 L434.98,121.41 L436.47,121.17 L437.96,120.93 L439.45,120.71 L440.94,120.49 L442.44,120.28 L443.93,120.07 L445.43,119.88 L446.93,119.69 L448.43,119.51 L449.93,119.34 L451.43,119.18 L452.93,119.02 L454.44,118.88 L455.95,118.73 L457.45,118.60 L458.96,118.47 L460.47,118.34 L461.98,118.22 L463.50,118.11 L465.01,118.00 L466.52,117.89 L468.04,117.79 L469.55,117.69 L471.07,117.60 L472.58,117.50 L474.10,117.41 L475.62,117.33 L477.13,117.24 L478.65,117.16 L480.17,117.08 L481.69,117.00 L483.21,116.92 L484.72,116.84 L486.24,116.76 L487.76,116.68 L489.28,116.60 L490.80,116.52 L492.32,116.44 L493.84,116.36 L495.35,116.27 L496.87,116.18 L498.39,116.09 L499.91,116.00 L501.42,115.91 L502.94,115.81 L504.45,115.71 L505.97,115.60 L507.48,115.49 L508.99,115.37 L510.51,115.25 L512.02,115.13 L513.53,115.00 L515.04,114.86 L516.55,114.72 L518.05,114.57 L519.56,114.41 L521.06,114.24 L522.57,114.07 L524.07,113.89 L525.57,113.71 L527.07,113.51 L528.56,113.31 L530.06,113.09 L531.55,112.87 L533.05,112.64 L534.54,112.39 L536.03,112.14 L537.51,111.87 L539.00,111.60" stroke="#0000ff" stroke-width="2" fill="none" stroke-linejoin="round"/>
<path d="M333.99,213.00 L333.95,211.45 L333.94,209.91 L333.98,208.37 L334.05,206.85 L334.15,205.34 L334.29,203.83 L334.46,202.34 L334.66,200.85 L334.89,199.37 L335.14,197.90 L335.43,196.43 L335.74,194.97 L336.07,193.52 L336.43,192.07 L336.82,190.63 L337.22,189.20 L337.64,187.76 L338.09,186.34 L338.55,184.92 L339.02,183.50 L339.52,182.08 L340.02,180.67 L340.55,179.26 L341.08,177.86 L341.62,176.45 L342.18,175.05 L342.74,173.65 L343.31,172.25 L343.88,170.85 L344.46,169.45 L345.05,168.05 L345.64,166.65 L346.22,165.25 L346.81,163.85 L347.40,162.45 L347.99,161.05 L348.57,159.64 L349.15,158.23 L349.73,156.82 L350.30,155.41 L350.87,153.99 L351.44,152.58 L352.01,151.17 L352.57,149.75 L353.14,148.34 L353.70,146.92 L354.27,145.51 L354.84,144.10 L355.42,142.69 L355.99,141.28 L356.57,139.88 L357.16,138.48 L357.75,137.08 L358.35,135.69 L358.95,134.30 L359.56,132.92 L360.18,131.54 L360.81,130.17 L361.45,128.81 L362.10,127.45 L362.76,126.10 L363.43,124.76 L364.11,123.42 L364.81,122.10 L365.52,120.78 L366.24,119.47 L366.98,118.17 L367.74,116.88 L368.51,115.61 L369.30,114.34 L370.11,113.08 L370.93,111.84 L371.77,110.61 L372.64,109.39 L373.52,108.19 L374.42,106.99 L375.35,105.81 L376.29,104.65 L377.25,103.49 L378.22,102.35 L379.22,101.23 L380.23,100.11 L381.26,99.01 L382.30,97.92 L383.36,96.85 L384.44,95.78 L385.53,94.73 L386.63,93.69 L387.75,92.67 L388.88,91.66 L390.03,90.66 L391.19,89.67 L392.36,88.70 L393.54,87.74 L394.74,86.79 L395.94,85.85 L397.16,84.93 L398.38,84.02 L399.62,83.12 L400.87,82.23 L402.12,81.36 L403.38,80.50 L404.65,79.65 L405.93,78.82 L407.22,77.99 L408.51,77.18 L409.81,76.39 L411.11,75.60 L412.42,74.83 L413.74,74.07 L415.06,73.32 L416.39,72.58 L417.72,71.86 L419.05,71.15 L420.39,70.45 L421.74,69.76 L423.08,69.08 L424.44,68.41 L425.80,67.76 L427.16,67.12 L428.52,66.48 L429.90,65.86 L431.27,65.25 L432.65,64.65 L434.03,64.06 L435.42,63.48 L436.81,62.91 L438.21,62.35 L439.61,61.80 L441.01,61.27 L442.42,60.74 L443.83,60.22 L445.24,59.71 L446.66,59.20 L448.08,58.71 L449.50,58.23 L450.93,57.76 L452.36,57.29 L453.80,56.83 L455.23,56.39 L456.67,55.95 L458.12,55.52 L459.56,55.09 L461.01,54.68 L462.47,54.27 L463.92,53.87 L465.38,53.48 L466.84,53.10 L468.30,52.72 L469.77,52.35 L471.23,51.99 L472.70,51.63 L474.18,51.29 L475.65,50.95 L477.13,50.61 L478.61,50.28 L480.09,49.96 L481.57,49.64 L483.06,49.33 L484.54,49.03 L486.03,48.73 L487.52,48.44 L489.02,48.15 L490.51,47.87 L492.01,47.60 L493.50,47.33 L495.00,47.06 L496.50,46.80" stroke="#000000" stroke-width="2" fill="none" stroke-dasharray="1.8 1.75"/>
<path d="M333.99,213.00 L333.83,211.36 L333.77,209.77 L333.79,208.21 L333.90,206.68 L334.08,205.18 L334.34,203.71 L334.66,202.27 L335.06,200.85 L335.51,199.46 L336.02,198.09 L336.58,196.75 L337.19,195.42 L337.84,194.10 L338.54,192.81 L339.27,191.52 L340.02,190.25 L340.81,188.99 L341.62,187.74 L342.44,186.49 L343.28,185.25 L344.14,184.02 L345.01,182.79 L345.89,181.56 L346.77,180.33 L347.66,179.11 L348.55,177.88 L349.45,176.66 L350.34,175.43 L351.22,174.19 L352.10,172.95 L352.97,171.71 L353.83,170.46 L354.68,169.20 L355.51,167.94 L356.32,166.66 L357.11,165.37 L357.88,164.07 L358.64,162.77 L359.38,161.45 L360.11,160.13 L360.82,158.80 L361.52,157.47 L362.21,156.12 L362.89,154.78 L363.56,153.43 L364.22,152.07 L364.88,150.71 L365.53,149.35 L366.17,147.98 L366.81,146.62 L367.45,145.25 L368.09,143.88 L368.73,142.51 L369.36,141.15 L370.01,139.78 L370.65,138.42 L371.30,137.06 L371.95,135.70 L372.61,134.35 L373.28,133.00 L373.96,131.65 L374.64,130.32 L375.34,128.99 L376.05,127.66 L376.77,126.34 L377.51,125.04 L378.26,123.74 L379.03,122.45 L379.82,121.17 L380.63,119.90 L381.45,118.64 L382.30,117.39 L383.16,116.15 L384.04,114.93 L384.94,113.72 L385.85,112.51 L386.78,111.32 L387.73,110.15 L388.69,108.98 L389.67,107.82 L390.67,106.68 L391.68,105.55 L392.70,104.43 L393.74,103.33 L394.80,102.24 L395.86,101.16 L396.94,100.09 L398.04,99.04 L399.14,97.99 L400.26,96.97 L401.39,95.95 L402.53,94.95 L403.69,93.96 L404.85,92.99 L406.03,92.03 L407.21,91.08 L408.41,90.15 L409.61,89.23 L410.83,88.33 L412.05,87.44 L413.28,86.57 L414.52,85.71 L415.77,84.86 L417.03,84.03 L418.29,83.22 L419.56,82.41 L420.84,81.63 L422.12,80.85 L423.42,80.09 L424.72,79.34 L426.02,78.61 L427.34,77.89 L428.66,77.18 L429.99,76.48 L431.32,75.80 L432.66,75.13 L434.00,74.47 L435.36,73.83 L436.72,73.19 L438.08,72.57 L439.45,71.96 L440.82,71.36 L442.20,70.77 L443.59,70.19 L444.98,69.62 L446.38,69.07 L447.78,68.52 L449.18,67.99 L450.59,67.46 L452.01,66.94 L453.43,66.44 L454.85,65.94 L456.28,65.45 L457.71,64.98 L459.15,64.51 L460.59,64.05 L462.03,63.60 L463.48,63.15 L464.93,62.72 L466.38,62.29 L467.84,61.87 L469.30,61.46 L470.76,61.06 L472.23,60.66 L473.70,60.28 L475.17,59.90 L476.64,59.52 L478.11,59.15 L479.59,58.79 L481.07,58.44 L482.55,58.09 L484.04,57.75 L485.52,57.41 L487.01,57.08 L488.49,56.75 L489.98,56.43 L491.47,56.12 L492.96,55.81 L494.46,55.50 L495.95,55.20 L497.44,54.91 L498.94,54.61 L500.43,54.33 L501.93,54.04 L503.42,53.76 L504.91,53.49 L506.41,53.21 L507.90,52.94 L509.40,52.68 L510.89,52.41 L512.38,52.15 L513.88,51.89 L515.37,51.63 L516.86,51.38 L518.35,51.13 L519.83,50.88 L521.32,50.63 L522.80,50.38 L524.29,50.13 L525.77,49.89 L527.25,49.64 L528.72,49.40 L530.20,49.16 L531.67,48.92 L533.14,48.67 L534.61,48.43 L536.08,48.19 L537.54,47.95 L539.00,47.70" stroke="#ff0000" stroke-width="2" fill="none" stroke-dasharray="1.8 1.75"/>
<path d="M334.50,213.00 L334.53,211.66 L334.55,210.17 L334.61,208.58 L334.74,206.96 L334.99,205.37 L335.38,203.88 L335.97,202.54 L336.78,201.43 L337.82,200.55 L339.03,199.82 L340.34,199.17 L341.67,198.48 L342.98,197.72 L344.26,196.87 L345.51,195.96 L346.71,194.98 L347.87,193.95 L348.99,192.87 L350.05,191.77 L351.05,190.63 L352.00,189.46 L352.91,188.28 L353.77,187.07 L354.60,185.84 L355.40,184.59 L356.18,183.32 L356.93,182.04 L357.66,180.75 L358.37,179.44 L359.06,178.12 L359.74,176.79 L360.40,175.44 L361.05,174.09 L361.68,172.73 L362.30,171.35 L362.91,169.97 L363.51,168.59 L364.10,167.19 L364.69,165.80 L365.27,164.40 L365.84,162.99 L366.41,161.58 L366.98,160.17 L367.55,158.76 L368.13,157.35 L368.70,155.95 L369.28,154.54 L369.86,153.13 L370.45,151.73 L371.04,150.33 L371.64,148.94 L372.26,147.56 L372.88,146.18 L373.52,144.81 L374.17,143.44 L374.83,142.09 L375.52,140.75 L376.21,139.41 L376.93,138.09 L377.67,136.79 L378.43,135.49 L379.21,134.21 L380.02,132.95 L380.85,131.70 L381.71,130.47 L382.58,129.26 L383.49,128.06 L384.41,126.87 L385.36,125.70 L386.32,124.54 L387.31,123.40 L388.31,122.28 L389.34,121.17 L390.38,120.07 L391.43,118.98 L392.51,117.91 L393.59,116.85 L394.70,115.81 L395.81,114.78 L396.94,113.76 L398.08,112.75 L399.24,111.75 L400.40,110.77 L401.57,109.80 L402.75,108.84 L403.94,107.89 L405.14,106.95 L406.34,106.02 L407.55,105.10 L408.77,104.20 L409.99,103.30 L411.22,102.41 L412.45,101.54 L413.70,100.67 L414.94,99.82 L416.19,98.97 L417.45,98.13 L418.72,97.31 L419.98,96.49 L421.26,95.69 L422.54,94.89 L423.82,94.10 L425.12,93.32 L426.41,92.55 L427.71,91.79 L429.02,91.04 L430.33,90.30 L431.65,89.57 L432.97,88.85 L434.29,88.13 L435.62,87.43 L436.96,86.73 L438.30,86.04 L439.64,85.36 L440.99,84.69 L442.34,84.03 L443.70,83.38 L445.06,82.73 L446.43,82.09 L447.80,81.46 L449.17,80.84 L450.55,80.23 L451.93,79.62 L453.31,79.03 L454.70,78.44 L456.09,77.85 L457.49,77.28 L458.89,76.71 L460.29,76.15 L461.70,75.60 L463.11,75.05 L464.52,74.52 L465.93,73.98 L467.35,73.46 L468.77,72.94 L470.20,72.43 L471.62,71.93 L473.05,71.43 L474.49,70.94 L475.92,70.46 L477.36,69.98 L478.80,69.51 L480.24,69.05 L481.68,68.59 L483.13,68.14 L484.58,67.70 L486.03,67.26 L487.48,66.82 L488.94,66.39 L490.39,65.97 L491.85,65.56 L493.31,65.15 L494.77,64.74 L496.24,64.34 L497.70,63.95 L499.17,63.56 L500.63,63.18 L502.10,62.80 L503.57,62.42 L505.04,62.06 L506.51,61.69 L507.99,61.33 L509.46,60.98 L510.93,60.63 L512.41,60.29 L513.88,59.95 L515.36,59.61 L516.84,59.28 L518.31,58.96 L519.79,58.63 L521.27,58.32 L522.75,58.00 L524.23,57.69 L525.70,57.39 L527.18,57.08 L528.66,56.79 L530.14,56.49 L531.62,56.20 L533.09,55.91 L534.57,55.63 L536.05,55.35 L537.52,55.07 L539.00,54.80" stroke="#00c000" stroke-width="2" fill="none" stroke-dasharray="1.8 1.75"/>
<path d="M334.00,213.00 L333.56,211.27 L333.29,209.59 L333.19,207.98 L333.23,206.42 L333.42,204.93 L333.75,203.49 L334.20,202.11 L334.78,200.79 L335.47,199.52 L336.27,198.31 L337.16,197.15 L338.14,196.05 L339.20,195.01 L340.34,194.02 L341.54,193.08 L342.80,192.19 L344.11,191.36 L345.46,190.58 L346.85,189.84 L348.26,189.16 L349.68,188.53 L351.12,187.93 L352.53,187.33 L353.90,186.71 L355.22,186.04 L356.46,185.29 L357.61,184.43 L358.64,183.44 L359.55,182.32 L360.37,181.09 L361.14,179.80 L361.89,178.49 L362.62,177.17 L363.35,175.85 L364.07,174.52 L364.78,173.18 L365.49,171.84 L366.19,170.49 L366.89,169.14 L367.58,167.79 L368.27,166.44 L368.96,165.08 L369.65,163.73 L370.35,162.37 L371.04,161.02 L371.73,159.67 L372.43,158.32 L373.14,156.97 L373.85,155.63 L374.56,154.29 L375.29,152.96 L376.02,151.63 L376.76,150.31 L377.52,149.00 L378.28,147.70 L379.06,146.40 L379.85,145.12 L380.66,143.85 L381.48,142.58 L382.32,141.34 L383.17,140.10 L384.05,138.88 L384.94,137.67 L385.86,136.48 L386.80,135.30 L387.76,134.14 L388.74,133.00 L389.74,131.87 L390.76,130.76 L391.80,129.66 L392.86,128.58 L393.94,127.51 L395.04,126.46 L396.15,125.42 L397.27,124.40 L398.41,123.39 L399.57,122.39 L400.73,121.40 L401.91,120.43 L403.10,119.47 L404.30,118.52 L405.51,117.58 L406.72,116.66 L407.95,115.74 L409.18,114.83 L410.42,113.94 L411.66,113.05 L412.91,112.18 L414.16,111.31 L415.42,110.46 L416.68,109.61 L417.95,108.77 L419.22,107.94 L420.50,107.12 L421.78,106.31 L423.07,105.51 L424.36,104.72 L425.65,103.94 L426.95,103.16 L428.26,102.40 L429.57,101.64 L430.88,100.89 L432.20,100.15 L433.52,99.42 L434.85,98.69 L436.18,97.98 L437.51,97.27 L438.85,96.57 L440.19,95.88 L441.54,95.20 L442.89,94.52 L444.24,93.86 L445.60,93.20 L446.96,92.54 L448.32,91.90 L449.69,91.26 L451.06,90.63 L452.44,90.01 L453.82,89.39 L455.20,88.78 L456.58,88.18 L457.97,87.59 L459.36,87.00 L460.75,86.42 L462.15,85.84 L463.55,85.27 L464.95,84.71 L466.36,84.15 L467.77,83.61 L469.18,83.06 L470.59,82.53 L472.01,81.99 L473.43,81.47 L474.85,80.95 L476.28,80.44 L477.70,79.93 L479.13,79.43 L480.56,78.93 L482.00,78.44 L483.43,77.96 L484.87,77.48 L486.31,77.00 L487.75,76.53 L489.19,76.07 L490.64,75.61 L492.08,75.15 L493.53,74.71 L494.98,74.26 L496.44,73.82 L497.89,73.38 L499.35,72.95 L500.80,72.53 L502.26,72.10 L503.72,71.69 L505.18,71.27 L506.64,70.86 L508.11,70.45 L509.57,70.05 L511.03,69.65 L512.50,69.26 L513.97,68.87 L515.44,68.48 L516.91,68.10 L518.38,67.72 L519.85,67.34 L521.32,66.97 L522.79,66.60 L524.26,66.23 L525.73,65.86 L527.21,65.50 L528.68,65.14 L530.15,64.79 L531.63,64.43 L533.10,64.08 L534.58,63.74 L536.05,63.39 L537.53,63.05 L539.00,62.70" stroke="#0000ff" stroke-width="2" fill="none" stroke-dasharray="1.8 1.75"/>
<rect x="333.50" y="29.40" width="206.20" height="184.50" fill="none" stroke="#000" stroke-width="1.6"/>
<path d="M329.50,213.90H333.50M331.30,208.35H333.50M331.30,205.10H333.50M331.30,202.79H333.50M331.30,201.00H333.50M331.30,199.54H333.50M331.30,198.31H333.50M331.30,197.24H333.50M331.30,196.29H333.50M329.50,195.45H333.50M331.30,189.90H333.50M331.30,186.65H333.50M331.30,184.34H333.50M331.30,182.55H333.50M331.30,181.09H333.50M331.30,179.86H333.50M331.30,178.79H333.50M331.30,177.84H333.50M329.50,177.00H333.50M331.30,171.45H333.50M331.30,168.20H333.50M331.30,165.89H333.50M331.30,164.10H333.50M331.30,162.64H333.50M331.30,161.41H333.50M331.30,160.34H333.50M331.30,159.39H333.50M329.50,158.55H333.50M331.30,153.00H333.50M331.30,149.75H333.50M331.30,147.44H333.50M331.30,145.65H333.50M331.30,144.19H333.50M331.30,142.96H333.50M331.30,141.89H333.50M331.30,140.94H333.50M329.50,140.10H333.50M331.30,134.55H333.50M331.30,131.30H333.50M331.30,128.99H333.50M331.30,127.20H333.50M331.30,125.74H333.50M331.30,124.51H333.50M331.30,123.44H333.50M331.30,122.49H333.50M329.50,121.65H333.50M331.30,116.10H333.50M331.30,112.85H333.50M331.30,110.54H333.50M331.30,108.75H333.50M331.30,107.29H333.50M331.30,106.06H333.50M331.30,104.99H333.50M331.30,104.04H333.50M329.50,103.20H333.50M331.30,97.65H333.50M331.30,94.40H333.50M331.30,92.09H333.50M331.30,90.30H333.50M331.30,88.84H333.50M331.30,87.61H333.50M331.30,86.54H333.50M331.30,85.59H333.50M329.50,84.75H333.50M331.30,79.20H333.50M331.30,75.95H333.50M331.30,73.64H333.50M331.30,71.85H333.50M331.30,70.39H333.50M331.30,69.16H333.50M331.30,68.09H333.50M331.30,67.14H333.50M329.50,66.30H333.50M331.30,60.75H333.50M331.30,57.50H333.50M331.30,55.19H333.50M331.30,53.40H333.50M331.30,51.94H333.50M331.30,50.71H333.50M331.30,49.64H333.50M331.30,48.69H333.50M329.50,47.85H333.50M331.30,42.30H333.50M331.30,39.05H333.50M331.30,36.74H333.50M331.30,34.95H333.50M331.30,33.49H333.50M331.30,32.26H333.50M331.30,31.19H333.50M331.30,30.24H333.50M329.50,29.40H333.50M333.50,213.90V217.90M354.12,213.90V216.50M374.74,213.90V217.90M395.36,213.90V216.50M415.98,213.90V217.90M436.60,213.90V216.50M457.22,213.90V217.90M477.84,213.90V216.50M498.46,213.90V217.90M519.08,213.90V216.50M539.70,213.90V217.90" stroke="#000" stroke-width="1.1" fill="none"/>
<text x="326.90" y="219.90" font-size="15" text-anchor="end">10<tspan dy="-8.6" font-size="8.5">-6</tspan></text>
<text x="326.90" y="183.00" font-size="15" text-anchor="end">10<tspan dy="-8.6" font-size="8.5">-4</tspan></text>
<text x="326.90" y="146.10" font-size="15" text-anchor="end">10<tspan dy="-8.6" font-size="8.5">-2</tspan></text>
<text x="326.90" y="109.20" font-size="15" text-anchor="end">10<tspan dy="-8.6" font-size="8.5">0</tspan></text>
<text x="326.90" y="72.30" font-size="15" text-anchor="end">10<tspan dy="-8.6" font-size="8.5">2</tspan></text>
<text x="326.90" y="35.40" font-size="15" text-anchor="end">10<tspan dy="-8.6" font-size="8.5">4</tspan></text>
<text transform="translate(334.10,232.80) scale(1.060,1)" font-size="15.3" text-anchor="middle">0</text>
<text transform="translate(375.34,232.80) scale(1.060,1)" font-size="15.3" text-anchor="middle">2</text>
<text transform="translate(416.58,232.80) scale(1.060,1)" font-size="15.3" text-anchor="middle">4</text>
<text transform="translate(457.82,232.80) scale(1.060,1)" font-size="15.3" text-anchor="middle">6</text>
<text transform="translate(499.06,232.80) scale(1.060,1)" font-size="15.3" text-anchor="middle">8</text>
<text transform="translate(540.30,232.80) scale(1.060,1)" font-size="15.3" text-anchor="middle">10</text>
<text transform="translate(279.00,16.80) scale(1.040,1)" font-size="18.5">(b)</text>
<text transform="translate(440.30,248.10) scale(1.080,1)" font-size="15" text-anchor="middle">V (V)</text>
<text transform="translate(293.8,122.3) rotate(-90)" text-anchor="middle" font-size="16.2">J (mA/cm<tspan dy="-8.2" font-size="10.5">2</tspan><tspan dy="8.2">)</tspan></text>
<path d="M336.90,38.60H364.30" stroke="#000000" stroke-width="2"/>
<text transform="translate(368.00,43.30) scale(0.950,1)" font-size="12.2">1:0</text>
<path d="M336.90,52.20H364.30" stroke="#ff0000" stroke-width="2"/>
<text transform="translate(368.00,56.90) scale(0.950,1)" font-size="12.2">1:0.17</text>
<path d="M336.90,66.60H364.30" stroke="#00c000" stroke-width="2"/>
<text transform="translate(368.00,71.30) scale(0.950,1)" font-size="12.2">1:0.33</text>
<path d="M336.90,81.10H364.30" stroke="#0000ff" stroke-width="2"/>
<text transform="translate(368.00,85.80) scale(0.950,1)" font-size="12.2">1:0.5</text>
<text transform="translate(430.20,157.40) scale(1.050,1)" font-size="12" font-weight="bold">EO2</text>
<rect x="471.60" y="124.30" width="58.30" height="13.00" fill="#c0c0c0"/>
<rect x="471.60" y="137.30" width="58.30" height="9.40" fill="#3399ff"/>
<rect x="471.60" y="146.70" width="58.30" height="12.30" fill="#fbf49c"/>
<rect x="471.60" y="159.00" width="58.30" height="10.90" fill="#90ec90"/>
<clipPath id="c471"><rect x="471.60" y="169.90" width="58.30" height="12.30"/></clipPath>
<rect x="471.60" y="169.90" width="58.30" height="12.30" fill="#fff"/>
<g clip-path="url(#c471)"><g fill="#ff0000"><circle cx="469.10" cy="171.70" r="2.55"/><circle cx="477.70" cy="171.70" r="2.55"/><circle cx="486.30" cy="171.70" r="2.55"/><circle cx="494.90" cy="171.70" r="2.55"/><circle cx="503.50" cy="171.70" r="2.55"/><circle cx="512.10" cy="171.70" r="2.55"/><circle cx="520.70" cy="171.70" r="2.55"/><circle cx="529.30" cy="171.70" r="2.55"/><circle cx="473.40" cy="175.85" r="2.55"/><circle cx="482.00" cy="175.85" r="2.55"/><circle cx="490.60" cy="175.85" r="2.55"/><circle cx="499.20" cy="175.85" r="2.55"/><circle cx="507.80" cy="175.85" r="2.55"/><circle cx="516.40" cy="175.85" r="2.55"/><circle cx="525.00" cy="175.85" r="2.55"/><circle cx="469.10" cy="180.00" r="2.55"/><circle cx="477.70" cy="180.00" r="2.55"/><circle cx="486.30" cy="180.00" r="2.55"/><circle cx="494.90" cy="180.00" r="2.55"/><circle cx="503.50" cy="180.00" r="2.55"/><circle cx="512.10" cy="180.00" r="2.55"/><circle cx="520.70" cy="180.00" r="2.55"/><circle cx="529.30" cy="180.00" r="2.55"/><circle cx="473.40" cy="184.15" r="2.55"/><circle cx="482.00" cy="184.15" r="2.55"/><circle cx="490.60" cy="184.15" r="2.55"/><circle cx="499.20" cy="184.15" r="2.55"/><circle cx="507.80" cy="184.15" r="2.55"/><circle cx="516.40" cy="184.15" r="2.55"/><circle cx="525.00" cy="184.15" r="2.55"/></g><g fill="#ffb0b0"><circle cx="468.20" cy="170.80" r="0.7"/><circle cx="476.80" cy="170.80" r="0.7"/><circle cx="485.40" cy="170.80" r="0.7"/><circle cx="494.00" cy="170.80" r="0.7"/><circle cx="502.60" cy="170.80" r="0.7"/><circle cx="511.20" cy="170.80" r="0.7"/><circle cx="519.80" cy="170.80" r="0.7"/><circle cx="528.40" cy="170.80" r="0.7"/><circle cx="472.50" cy="174.95" r="0.7"/><circle cx="481.10" cy="174.95" r="0.7"/><circle cx="489.70" cy="174.95" r="0.7"/><circle cx="498.30" cy="174.95" r="0.7"/><circle cx="506.90" cy="174.95" r="0.7"/><circle cx="515.50" cy="174.95" r="0.7"/><circle cx="524.10" cy="174.95" r="0.7"/><circle cx="468.20" cy="179.10" r="0.7"/><circle cx="476.80" cy="179.10" r="0.7"/><circle cx="485.40" cy="179.10" r="0.7"/><circle cx="494.00" cy="179.10" r="0.7"/><circle cx="502.60" cy="179.10" r="0.7"/><circle cx="511.20" cy="179.10" r="0.7"/><circle cx="519.80" cy="179.10" r="0.7"/><circle cx="528.40" cy="179.10" r="0.7"/><circle cx="472.50" cy="183.25" r="0.7"/><circle cx="481.10" cy="183.25" r="0.7"/><circle cx="489.70" cy="183.25" r="0.7"/><circle cx="498.30" cy="183.25" r="0.7"/><circle cx="506.90" cy="183.25" r="0.7"/><circle cx="515.50" cy="183.25" r="0.7"/><circle cx="524.10" cy="183.25" r="0.7"/></g></g>
<rect x="489.50" y="171.10" width="22.50" height="10.10" fill="#fff"/>
<rect x="471.60" y="182.20" width="58.30" height="15.50" fill="#c6f4f8"/>
<rect x="471.60" y="197.70" width="58.30" height="10.90" fill="#fbe2d4"/>
<path d="M471.60,137.30H529.90M471.60,146.70H529.90M471.60,159.00H529.90M471.60,169.90H529.90M471.60,182.20H529.90M471.60,197.70H529.90" stroke="#262626" stroke-width="1.3"/>
<rect x="471.60" y="124.30" width="58.30" height="84.30" fill="none" stroke="#262626" stroke-width="1.4"/>
<text x="501.05" y="133.60" font-size="10" text-anchor="middle" style="fill:#000;stroke:#000">Al</text>
<text x="501.05" y="145.60" font-size="9.6" text-anchor="middle" style="fill:#fff;stroke:#fff">LiF</text>
<text x="501.05" y="156.40" font-size="10" text-anchor="middle" style="fill:#000;stroke:#000">Poly-TPD</text>
<text x="501.05" y="167.60" font-size="10" text-anchor="middle" style="fill:#000;stroke:#000">PVK</text>
<text x="501.05" y="179.80" font-size="10" text-anchor="middle" style="fill:#000;stroke:#000">QD</text>
<text x="501.05" y="192.90" font-size="10" text-anchor="middle" style="fill:#000;stroke:#000">ZnO:PEI</text>
<text x="501.05" y="206.50" font-size="10" text-anchor="middle" style="fill:#000;stroke:#000">ITO</text>
</svg>
</body></html>
